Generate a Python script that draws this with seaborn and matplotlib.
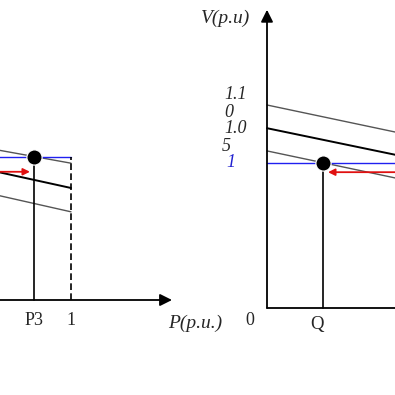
import matplotlib
matplotlib.use("Agg")
import matplotlib.pyplot as plt
import seaborn as sns

sns.set_theme(style="white")
plt.rcParams['font.family'] = ['Liberation Serif', 'DejaVu Serif']

W = 395  # figure size in px

# ---- left panel: V-P droop (P in p.u.) ----
p_start, p3, p_rated, p_axis_end = 0.6, 0.8, 1.0, 1.546
v_base, v_ref = 0.7, 1.0
droop_left = {
    "upper": [1.015, 0.987],
    "mid": [0.969, 0.935],
    "lower": [0.920, 0.885],
}
p_tick_labels = ["P3", "1"]

# ---- right panel: V-Q droop (Q in p.u.) ----
q_end, q_point = 0.7, 0.3
v_axis_end = 1.317
droop_right = {
    "upper": [1.120, 1.063],
    "mid": [1.072, 1.016],
    "lower": [1.025, 0.968],
}
v_labels = ["1.1", "0", "1.0", "5"]


def limits(v1, p1, v2, p2, flip=False):
    # axis limits so that value v1 sits at pixel p1 and v2 at pixel p2
    s = (p2 - p1) / (v2 - v1)
    if flip:
        s = -s
        top = v1 + p1 / s
        return top - W / s, top
    lo = v1 - p1 / s
    return lo, lo + W / s


fig = plt.figure(figsize=(3.95, 3.95), dpi=100)
axl = fig.add_axes([0, 0, 1, 1])
axr = fig.add_axes([0, 0, 1, 1])
for ax in (axl, axr):
    ax.set_axis_off()
    ax.patch.set_alpha(0)

axl.set_xlim(*limits(p3, 34, p_rated, 71))
axl.set_ylim(*limits(v_ref, 157, v_base, 300, flip=True))
axr.set_xlim(*limits(0.0, 267, q_point, 323))
axr.set_ylim(*limits(v_ref, 163, v_base, 308, flip=True))

styles = {"upper": ("#555555", 1.0), "mid": ("black", 1.4), "lower": ("#555555", 1.0)}

# left panel
for key, vals in droop_left.items():
    c, lw = styles[key]
    sns.lineplot(x=[p_start, p_rated], y=vals, ax=axl, color=c, lw=lw, legend=False)
axl.plot([p_start, p_rated], [v_ref, v_ref], color="#2020f0", lw=1.0)
axl.plot([p3, p3], [v_base, v_ref], color="black", lw=1.2)
axl.plot([p_rated, p_rated], [v_base, v_ref], color="black", lw=1.2, ls=(0, (4, 2)))
axl.annotate("", xy=(p_axis_end, v_base), xytext=(p_start, v_base),
             arrowprops=dict(arrowstyle="-|>", color="black", lw=1.3, mutation_scale=18,
                             shrinkA=0, shrinkB=0))
axl.annotate("", xy=(0.778, droop_left["mid"][0]), xytext=(p_start, droop_left["mid"][0]),
             arrowprops=dict(arrowstyle="-|>", color="#e01010", lw=1.3, mutation_scale=10,
                             shrinkA=0, shrinkB=0))
sns.scatterplot(x=[p3], y=[v_ref], ax=axl, color="black", s=120, zorder=5, legend=False)
for p, lab in zip([p3, p_rated], p_tick_labels):
    axl.text(p, 0.658, lab, ha="center", va="center", fontsize=13)
axl.text(1.67, 0.651, "P(p.u.)", ha="center", va="center", fontsize=14, style="italic")

# right panel
for key, vals in droop_right.items():
    c, lw = styles[key]
    sns.lineplot(x=[0.0, q_end], y=vals, ax=axr, color=c, lw=lw, legend=False)
axr.plot([0.0, q_end], [v_ref, v_ref], color="#2020f0", lw=1.0)
axr.plot([q_point, q_point], [v_base, v_ref], color="black", lw=1.2)
axr.plot([0.0, q_end], [v_base, v_base], color="black", lw=1.3)
axr.annotate("", xy=(0.0, v_axis_end), xytext=(0.0, v_base),
             arrowprops=dict(arrowstyle="-|>", color="black", lw=1.3, mutation_scale=18,
                             shrinkA=0, shrinkB=0))
axr.annotate("", xy=(0.327, 0.981), xytext=(q_end, 0.981),
             arrowprops=dict(arrowstyle="-|>", color="#e01010", lw=1.3, mutation_scale=10,
                             shrinkA=0, shrinkB=0))
sns.scatterplot(x=[q_point], y=[v_ref], ax=axr, color="black", s=120, zorder=5, legend=False)

axr.text(-0.09, 1.300, "V(p.u)", ha="right", va="center", fontsize=14, style="italic")
v_label_pos = [(-0.166, 1.141), (-0.203, 1.104), (-0.166, 1.072), (-0.22, 1.034)]
for (x, y), lab in zip(v_label_pos, v_labels):
    axr.text(x, y, lab, ha="center", va="center", fontsize=13, style="italic")
axr.text(-0.193, 1.001, "1", ha="center", va="center", fontsize=13, style="italic", color="#2020d0")
axr.text(-0.09, 0.675, "0", ha="center", va="center", fontsize=13)
axr.text(0.268, 0.665, "Q", ha="center", va="center", fontsize=13.5)

fig.savefig("out.png", dpi=100)
